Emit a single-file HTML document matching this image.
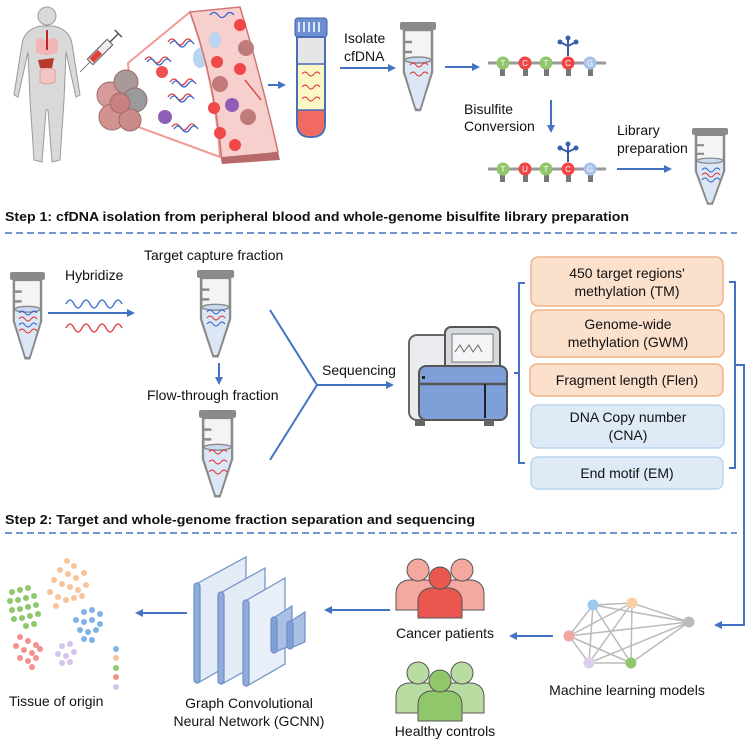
<!DOCTYPE html>
<html><head><meta charset="utf-8"><style>
html,body{margin:0;padding:0;background:#fff}
svg{display:block}
text{font-family:"Liberation Sans",sans-serif;fill:#111}
</style></head><body>
<svg width="747" height="745" viewBox="0 0 747 745" xmlns="http://www.w3.org/2000/svg">
<defs>
<marker id="ah" markerWidth="8" markerHeight="8" refX="6" refY="4" orient="auto" markerUnits="userSpaceOnUse"><path d="M0,0 L8,4 L0,8 Z" fill="#4472c4"/></marker>
<g id="tube">
<rect x="0" y="0" width="36" height="8" rx="2" fill="#8a8a8a"/>
<path d="M4,8 L32,8 L32,50 L20,88 L16,88 L4,50 Z" fill="#f4f4f4" stroke="#8a8a8a" stroke-width="2.5"/>
<path d="M5,38 L31,38 L31,50 L20,86 L16,86 L5,50 Z" fill="#dbe7f5"/>
<ellipse cx="18" cy="38" rx="13" ry="3" fill="#c9d9ee" stroke="#8a8a8a" stroke-width="1.5"/>
<path d="M4,20 L12,20 M4,30 L12,30" stroke="#8a8a8a" stroke-width="2.5"/>
</g>
<g id="person3">
<path d="M-22,50 L-22,34 Q-22,22 -10,20 L10,20 Q22,22 22,34 L22,50 Z"/>
<circle cx="0" cy="10" r="11"/>
</g>
</defs>

<!-- human -->
<g fill="#d9d9d9" stroke="#9a9a9a" stroke-width="1">
<circle cx="47" cy="16" r="9"/>
<path d="M40,26 L54,26 Q70,30 72,44 L80,95 L76,97 L66,52 L64,100 L60,160 L52,162 L48,110 L46,110 L42,162 L34,160 L30,100 L28,52 L18,97 L14,95 L22,44 Q24,30 40,26 Z"/>
</g>
<path d="M36,40 Q40,35 46,42 Q52,35 58,40 L58,52 Q47,58 36,52 Z" fill="#f2b6b6"/>
<path d="M47,30 L47,50" stroke="#c0272d" stroke-width="2"/>
<path d="M38,60 L54,58 L52,68 L40,68 Z" fill="#b83a2e"/>
<path d="M40,70 Q47,66 55,70 L55,82 Q47,86 40,82 Z" fill="#f2c4c4" stroke="#d98080" stroke-width="0.6"/>
<!-- syringe -->
<g transform="translate(100,52) rotate(-45)">
<rect x="-14" y="-4" width="28" height="8" fill="#eee" stroke="#555"/>
<rect x="-12" y="-3" width="12" height="6" fill="#e0403a"/>
<path d="M14,0 L26,0 M26,-5 L26,5" stroke="#555" stroke-width="1.5"/>
<path d="M-14,0 L-28,0" stroke="#777" stroke-width="1"/>
</g>
<!-- cone -->
<path d="M128,63 L190,12 Q215,80 220,157 L133,125 Z" fill="#fff" stroke="#f09a96" stroke-width="2"/>
<!-- tumor -->
<g stroke="#9b6b6b" stroke-width="1">
<circle cx="110" cy="95" r="13" fill="#d89a98"/><circle cx="126" cy="82" r="12" fill="#a99"/>
<circle cx="135" cy="100" r="12" fill="#9a9a9a"/><circle cx="112" cy="117" r="13" fill="#d4928f"/>
<circle cx="130" cy="120" r="11" fill="#c98c8a"/><circle cx="120" cy="103" r="10" fill="#c98080"/>
</g>
<g stroke-width="1.3" fill="none">
<path d="M145,60 q4,-6 8,0 t8,0 t8,0" stroke="#d33"/><path d="M147,62 q4,-6 8,0 t8,0 t8,0" stroke="#36c"/>
<path d="M168,42 q4,-6 8,0 t8,0 t8,0" stroke="#d33"/><path d="M170,44 q4,-6 8,0 t8,0 t8,0" stroke="#36c"/>
<path d="M170,82 q4,-6 8,0 t8,0 t8,0" stroke="#d33"/><path d="M172,84 q4,-6 8,0 t8,0 t8,0" stroke="#36c"/>
<path d="M168,97 q4,-6 8,0 t8,0 t8,0" stroke="#d33"/><path d="M170,99 q4,-6 8,0 t8,0 t8,0" stroke="#36c"/>
<path d="M172,127 q4,-6 8,0 t8,0 t8,0" stroke="#d33"/><path d="M174,129 q4,-6 8,0 t8,0 t8,0" stroke="#36c"/>
</g>
<circle cx="162" cy="72" r="6" fill="#f05050"/>
<circle cx="165" cy="117" r="7" fill="#8e5fb5"/>
<ellipse cx="200" cy="58" rx="7" ry="10" fill="#b9d4ee"/>
<!-- vessel -->
<path d="M190,12 L240,7 Q262,80 278,152 L222,162 Q215,80 190,12 Z" fill="#f7cfcc" stroke="#c77" stroke-width="1.5"/>
<path d="M222,157 L278,152 L280,160 L222,164 Z" fill="#b86a6a"/>
<g fill="#f04848"><circle cx="240" cy="25" r="6"/><circle cx="217" cy="62" r="6"/><circle cx="240" cy="69" r="6"/><circle cx="214" cy="108" r="6"/><circle cx="220" cy="133" r="6"/><circle cx="235" cy="145" r="6"/></g>
<g fill="#c07a7a"><circle cx="246" cy="48" r="8"/><circle cx="220" cy="84" r="8"/><circle cx="248" cy="117" r="8"/></g>
<circle cx="232" cy="105" r="7" fill="#8e5fb5"/>
<ellipse cx="215" cy="40" rx="6" ry="8" fill="#b9d4ee"/>
<path d="M210,15 q4,-5 8,0 t8,0 t8,0" stroke="#36c" fill="none" stroke-width="1.3"/>
<path d="M245,80 q4,5 8,10 t8,10" stroke="#d33" fill="none" stroke-width="1.3"/>
<line x1="268" y1="85" x2="284" y2="85" stroke="#4472c4" stroke-width="2" marker-end="url(#ah)"/>
<!-- blood tube -->
<rect x="295" y="18" width="32" height="19" rx="3" fill="#6b8fd0" stroke="#3f5f9f"/>
<path d="M299,22 v10 M304,22 v10 M309,22 v10 M314,22 v10 M319,22 v10" stroke="#dbe5f5" stroke-width="2"/>
<path d="M297,37 L325,37 L325,124 Q325,137 311,137 Q297,137 297,124 Z" fill="#e6e6e6" stroke="#4a6fb5" stroke-width="2"/>
<rect x="298" y="65" width="26" height="45" fill="#fbf7c6"/>
<path d="M298,110 L324,110 L324,124 Q324,136 311,136 Q298,136 298,124 Z" fill="#f06a62"/>
<path d="M298,64 L324,64 M298,110 L324,110" stroke="#4a6fb5" stroke-width="1.5"/>
<path d="M302,74 q3,-4 6,0 t6,0 t6,0 M302,87 q3,-4 6,0 t6,0 t6,0 M302,99 q3,-4 6,0 t6,0 t6,0" stroke="#d33" fill="none"/>
<text x="344" y="43" font-size="14">Isolate</text>
<text x="344" y="61" font-size="14">cfDNA</text>
<line x1="340" y1="68" x2="394" y2="68" stroke="#4472c4" stroke-width="2" marker-end="url(#ah)"/>
<use href="#tube" transform="translate(400,22)"/>
<path d="M410,65 q3,-4 6,0 t6,0 t6,0 M410,74 q3,-4 6,0 t6,0 t6,0" stroke="#d33" fill="none"/>
<line x1="445" y1="67" x2="478" y2="67" stroke="#4472c4" stroke-width="2" marker-end="url(#ah)"/>
<!-- strand 1 -->
<g>
<line x1="488" y1="63" x2="606" y2="63" stroke="#999" stroke-width="3"/>
<g fill="#777"><rect x="500" y="63" width="5" height="13"/><rect x="523" y="63" width="5" height="13"/><rect x="544" y="63" width="5" height="13"/><rect x="566" y="63" width="5" height="13"/><rect x="588" y="63" width="5" height="13"/></g>
<circle cx="503" cy="63" r="6.5" fill="#8fc76a"/><circle cx="525" cy="63" r="6.5" fill="#f04545"/><circle cx="546" cy="63" r="6.5" fill="#8fc76a"/><circle cx="568" cy="63" r="6.5" fill="#f04545"/><circle cx="590" cy="63" r="6.5" fill="#a9c2ea"/>
<g font-size="8" text-anchor="middle"><text x="503" y="66" style="fill:#fff">T</text><text x="525" y="66" style="fill:#fff">C</text><text x="546" y="66" style="fill:#fff">T</text><text x="568" y="66" style="fill:#fff">C</text><text x="590" y="66" style="fill:#fff">G</text></g>
<path d="M568,56 L568,46 M568,46 L560,42 M568,46 L576,42 M568,46 L568,38" stroke="#3a5ea8" stroke-width="2"/>
<circle cx="560" cy="42" r="2.5" fill="#3a5ea8"/><circle cx="576" cy="42" r="2.5" fill="#3a5ea8"/><circle cx="568" cy="38" r="2.5" fill="#3a5ea8"/>
</g>
<text x="464" y="114" font-size="14">Bisulfite</text>
<text x="464" y="131" font-size="14">Conversion</text>
<line x1="551" y1="100" x2="551" y2="131" stroke="#4472c4" stroke-width="2" marker-end="url(#ah)"/>
<!-- strand 2 -->
<g>
<line x1="488" y1="169" x2="606" y2="169" stroke="#999" stroke-width="3"/>
<g fill="#777"><rect x="500" y="169" width="5" height="13"/><rect x="523" y="169" width="5" height="13"/><rect x="544" y="169" width="5" height="13"/><rect x="566" y="169" width="5" height="13"/><rect x="588" y="169" width="5" height="13"/></g>
<circle cx="503" cy="169" r="6.5" fill="#8fc76a"/><circle cx="525" cy="169" r="6.5" fill="#f04545"/><circle cx="546" cy="169" r="6.5" fill="#8fc76a"/><circle cx="568" cy="169" r="6.5" fill="#f04545"/><circle cx="590" cy="169" r="6.5" fill="#a9c2ea"/>
<g font-size="8" text-anchor="middle"><text x="503" y="172" style="fill:#fff">T</text><text x="525" y="172" style="fill:#fff">U</text><text x="546" y="172" style="fill:#fff">T</text><text x="568" y="172" style="fill:#fff">C</text><text x="590" y="172" style="fill:#fff">G</text></g>
<path d="M568,162 L568,152 M568,152 L560,148 M568,152 L576,148 M568,152 L568,144" stroke="#3a5ea8" stroke-width="2"/>
<circle cx="560" cy="148" r="2.5" fill="#3a5ea8"/><circle cx="576" cy="148" r="2.5" fill="#3a5ea8"/><circle cx="568" cy="144" r="2.5" fill="#3a5ea8"/>
</g>
<text x="617" y="135" font-size="14">Library</text>
<text x="617" y="153" font-size="14">preparation</text>
<line x1="617" y1="169" x2="670" y2="169" stroke="#4472c4" stroke-width="2" marker-end="url(#ah)"/>
<use href="#tube" transform="translate(692,128) scale(1,0.86)"/>
<path d="M702,170 q3,-4 6,0 t6,0 t6,0 M702,180 q3,-4 6,0 t6,0 t6,0" stroke="#36c" fill="none"/>
<path d="M702,175 q3,-4 6,0 t6,0 t6,0" stroke="#d33" fill="none"/>

<text x="5" y="221" font-size="13" font-weight="bold" textLength="624" lengthAdjust="spacingAndGlyphs">Step 1: cfDNA isolation from peripheral blood and whole-genome bisulfite library preparation</text>
<line x1="5" y1="233" x2="737" y2="233" stroke="#4472c4" stroke-width="1.5" stroke-dasharray="7,4"/>

<!-- STEP 2 -->
<use href="#tube" transform="translate(10,272) scale(0.97,0.98)"/>
<path d="M19,313 q3,-4 6,0 t6,0 t6,0 M19,325 q3,-4 6,0 t6,0 t6,0" stroke="#36c" fill="none"/>
<path d="M19,319 q3,-4 6,0 t6,0 t6,0 M19,331 q3,-4 6,0 t6,0 t6,0" stroke="#d33" fill="none"/>
<text x="65" y="280" font-size="14">Hybridize</text>
<path d="M66,304 q4,-8 8,0 t8,0 t8,0 t8,0 t8,0 t8,0 t8,0" stroke="#36c" fill="none" stroke-width="1.3"/>
<line x1="48" y1="313" x2="133" y2="313" stroke="#4472c4" stroke-width="2" marker-end="url(#ah)"/>
<path d="M66,328 q4,-8 8,0 t8,0 t8,0 t8,0 t8,0 t8,0 t8,0" stroke="#d33" fill="none" stroke-width="1.3"/>
<text x="144" y="260" font-size="14">Target capture fraction</text>
<use href="#tube" transform="translate(197,270) scale(1.03,0.98)"/>
<path d="M207,312 q3,-4 6,0 t6,0 t6,0 M207,324 q3,-4 6,0 t6,0 t6,0" stroke="#36c" fill="none"/>
<path d="M207,318 q3,-4 6,0 t6,0 t6,0" stroke="#d33" fill="none"/>
<line x1="219" y1="363" x2="219" y2="383" stroke="#4472c4" stroke-width="2" marker-end="url(#ah)"/>
<text x="147" y="400" font-size="14">Flow-through fraction</text>
<use href="#tube" transform="translate(199,410) scale(1.03,0.98)"/>
<path d="M209,452 q3,-4 6,0 t6,0 t6,0 M209,462 q3,-4 6,0 t6,0 t6,0 M209,472 q3,-4 6,0 t6,0 t6,0" stroke="#d33" fill="none"/>
<path d="M270,310 L317,385 L270,460" stroke="#4472c4" stroke-width="2" fill="none"/>
<line x1="317" y1="385" x2="392" y2="385" stroke="#4472c4" stroke-width="2" marker-end="url(#ah)"/>
<text x="322" y="375" font-size="14">Sequencing</text>
<!-- sequencer -->
<rect x="409" y="335" width="70" height="85" rx="8" fill="#e9ebee" stroke="#666" stroke-width="2"/>
<rect x="445" y="327" width="55" height="44" rx="6" fill="#d5d8dd" stroke="#555" stroke-width="2"/>
<rect x="452" y="334" width="41" height="28" fill="#f4f5f6" stroke="#777"/>
<path d="M455,352 l5,-7 l4,7 l5,-7 l4,7 l5,-7 l4,7" stroke="#666" fill="none"/>
<rect x="419" y="366" width="88" height="54" rx="7" fill="#7e9fd8" stroke="#555" stroke-width="2"/>
<line x1="420" y1="384" x2="506" y2="384" stroke="#555" stroke-width="2.5"/>
<line x1="485" y1="384" x2="485" y2="418" stroke="#222" stroke-width="2"/>
<rect x="422" y="376" width="3" height="3" fill="#222"/>
<rect x="415" y="420" width="10" height="6" fill="#666"/><rect x="484" y="420" width="10" height="6" fill="#666"/>
<!-- brackets -->
<path d="M525,283 L519,283 L519,463 L525,463 M519,373 L514,373" stroke="#4472c4" stroke-width="2" fill="none"/>
<path d="M729,282 L735,282 L735,468 L729,468" stroke="#4472c4" stroke-width="2" fill="none"/>
<path d="M735,365 L744,365 L744,625 L716,625" stroke="#4472c4" stroke-width="2" fill="none" marker-end="url(#ah)"/>
<g stroke-width="1.5">
<rect x="531" y="257" width="192" height="49" rx="7" fill="#fbe0cc" stroke="#f0b48b"/>
<rect x="531" y="310" width="193" height="47" rx="7" fill="#fbe0cc" stroke="#f0b48b"/>
<rect x="530" y="364" width="193" height="32" rx="7" fill="#fbe0cc" stroke="#f0b48b"/>
<rect x="531" y="405" width="193" height="43" rx="7" fill="#deebf7" stroke="#bcd5ee"/>
<rect x="531" y="457" width="192" height="32" rx="7" fill="#deebf7" stroke="#bcd5ee"/>
</g>
<g font-size="14" text-anchor="middle">
<text x="627" y="278">450 target regions'</text>
<text x="627" y="296">methylation (TM)</text>
<text x="628" y="329">Genome-wide</text>
<text x="628" y="347">methylation (GWM)</text>
<text x="627" y="385">Fragment length (Flen)</text>
<text x="628" y="422">DNA Copy number</text>
<text x="628" y="440">(CNA)</text>
<text x="627" y="478">End motif (EM)</text>
</g>

<text x="5" y="524" font-size="13" font-weight="bold" textLength="470" lengthAdjust="spacingAndGlyphs">Step 2: Target and whole-genome fraction separation and sequencing</text>
<line x1="5" y1="533" x2="737" y2="533" stroke="#4472c4" stroke-width="1.5" stroke-dasharray="7,4"/>

<!-- STEP 3 -->
<g stroke="#bbb" stroke-width="1.5" fill="none">
<path d="M593,605 L632,603 L689,622 L569,636 L589,663 L631,663 L689,622 M593,605 L689,622 M593,605 L569,636 M593,605 L631,663 M593,605 L589,663 M632,603 L569,636 M632,603 L589,663 M632,603 L631,663 M569,636 L631,663 M589,663 L689,622"/>
</g>
<circle cx="593" cy="605" r="5.5" fill="#9cc8ef"/><circle cx="632" cy="603" r="5.5" fill="#f9cfa5"/><circle cx="689" cy="622" r="5.5" fill="#bbb"/>
<circle cx="569" cy="636" r="5.5" fill="#f3a3a0"/><circle cx="589" cy="663" r="5.5" fill="#dcd0ee"/><circle cx="631" cy="663" r="5.5" fill="#8fc76a"/>
<text x="627" y="695" font-size="14" text-anchor="middle">Machine learning models</text>
<line x1="553" y1="636" x2="511" y2="636" stroke="#4472c4" stroke-width="2" marker-end="url(#ah)"/>
<g fill="#f4a8a0" stroke="#555" stroke-width="1"><use href="#person3" transform="translate(418,560)"/><use href="#person3" transform="translate(462,560)"/></g>
<g fill="#e9574f" stroke="#555" stroke-width="1"><use href="#person3" transform="translate(440,568)"/></g>
<text x="445" y="638" font-size="14" text-anchor="middle">Cancer patients</text>
<g fill="#b9dca3" stroke="#555" stroke-width="1"><use href="#person3" transform="translate(418,663)"/><use href="#person3" transform="translate(462,663)"/></g>
<g fill="#8fc76a" stroke="#555" stroke-width="1"><use href="#person3" transform="translate(440,671)"/></g>
<text x="445" y="736" font-size="14" text-anchor="middle">Healthy controls</text>
<line x1="390" y1="610" x2="326" y2="610" stroke="#4472c4" stroke-width="2" marker-end="url(#ah)"/>
<g stroke="#6f8fc6" stroke-width="1.2">
<polygon points="198,583 246,557 246,655 198,683" fill="#e3ebf7"/><rect x="194" y="583" width="6" height="100" rx="3" fill="#8fabd8"/>
<polygon points="222,592 265,568 265,660 222,684" fill="#e3ebf7"/><rect x="218" y="592" width="6" height="92" rx="3" fill="#8fabd8"/>
<polygon points="247,600 285,578 285,664 247,686" fill="#e8eff9"/><rect x="243" y="600" width="6" height="86" rx="3" fill="#8fabd8"/>
<polygon points="275,617 292,606 292,645 275,652" fill="#a9c0e4"/><rect x="271" y="617" width="6" height="36" rx="3" fill="#7e9fd8"/>
<polygon points="291,621 305,612 305,642 291,648" fill="#a9c0e4"/><rect x="287" y="621" width="6" height="28" rx="3" fill="#7e9fd8"/>
</g>
<text x="249" y="708" font-size="14" text-anchor="middle">Graph Convolutional</text>
<text x="249" y="726" font-size="14" text-anchor="middle">Neural Network (GCNN)</text>
<line x1="187" y1="613" x2="137" y2="613" stroke="#4472c4" stroke-width="2" marker-end="url(#ah)"/>
<g fill="#f9c49a"><circle cx="67" cy="561" r="3"/><circle cx="74" cy="566" r="3"/><circle cx="60" cy="570" r="3"/><circle cx="68" cy="574" r="3"/><circle cx="76" cy="578" r="3"/><circle cx="84" cy="573" r="3"/><circle cx="54" cy="580" r="3"/><circle cx="62" cy="584" r="3"/><circle cx="70" cy="587" r="3"/><circle cx="78" cy="590" r="3"/><circle cx="86" cy="585" r="3"/><circle cx="50" cy="592" r="3"/><circle cx="58" cy="597" r="3"/><circle cx="66" cy="600" r="3"/><circle cx="74" cy="598" r="3"/><circle cx="56" cy="606" r="3"/><circle cx="82" cy="596" r="3"/></g>
<g fill="#8fc76a"><circle cx="12" cy="592" r="3"/><circle cx="20" cy="590" r="3"/><circle cx="28" cy="588" r="3"/><circle cx="10" cy="601" r="3"/><circle cx="18" cy="600" r="3"/><circle cx="26" cy="598" r="3"/><circle cx="34" cy="596" r="3"/><circle cx="12" cy="610" r="3"/><circle cx="20" cy="609" r="3"/><circle cx="28" cy="607" r="3"/><circle cx="36" cy="605" r="3"/><circle cx="14" cy="619" r="3"/><circle cx="22" cy="618" r="3"/><circle cx="30" cy="616" r="3"/><circle cx="38" cy="614" r="3"/><circle cx="26" cy="626" r="3"/><circle cx="34" cy="624" r="3"/></g>
<g fill="#7fb3e6"><circle cx="84" cy="612" r="3"/><circle cx="92" cy="610" r="3"/><circle cx="100" cy="614" r="3"/><circle cx="76" cy="620" r="3"/><circle cx="84" cy="622" r="3"/><circle cx="92" cy="620" r="3"/><circle cx="100" cy="624" r="3"/><circle cx="80" cy="630" r="3"/><circle cx="88" cy="632" r="3"/><circle cx="96" cy="630" r="3"/><circle cx="84" cy="639" r="3"/><circle cx="92" cy="640" r="3"/></g>
<g fill="#f3918c"><circle cx="20" cy="637" r="3"/><circle cx="28" cy="641" r="3"/><circle cx="36" cy="645" r="3"/><circle cx="16" cy="646" r="3"/><circle cx="24" cy="650" r="3"/><circle cx="32" cy="653" r="3"/><circle cx="40" cy="649" r="3"/><circle cx="20" cy="658" r="3"/><circle cx="28" cy="661" r="3"/><circle cx="36" cy="658" r="3"/><circle cx="32" cy="667" r="3"/></g>
<g fill="#d5c4ec"><circle cx="62" cy="646" r="3"/><circle cx="70" cy="644" r="3"/><circle cx="58" cy="654" r="3"/><circle cx="66" cy="656" r="3"/><circle cx="74" cy="652" r="3"/><circle cx="62" cy="663" r="3"/><circle cx="70" cy="662" r="3"/></g>
<circle cx="116" cy="649" r="3" fill="#7fb3e6"/><circle cx="116" cy="658" r="3" fill="#f9c49a"/><circle cx="116" cy="668" r="3" fill="#8fc76a"/><circle cx="116" cy="677" r="3" fill="#f3918c"/><circle cx="116" cy="687" r="3" fill="#d5c4ec"/>
<text x="9" y="706" font-size="14">Tissue of origin</text>
</svg>
</body></html>
